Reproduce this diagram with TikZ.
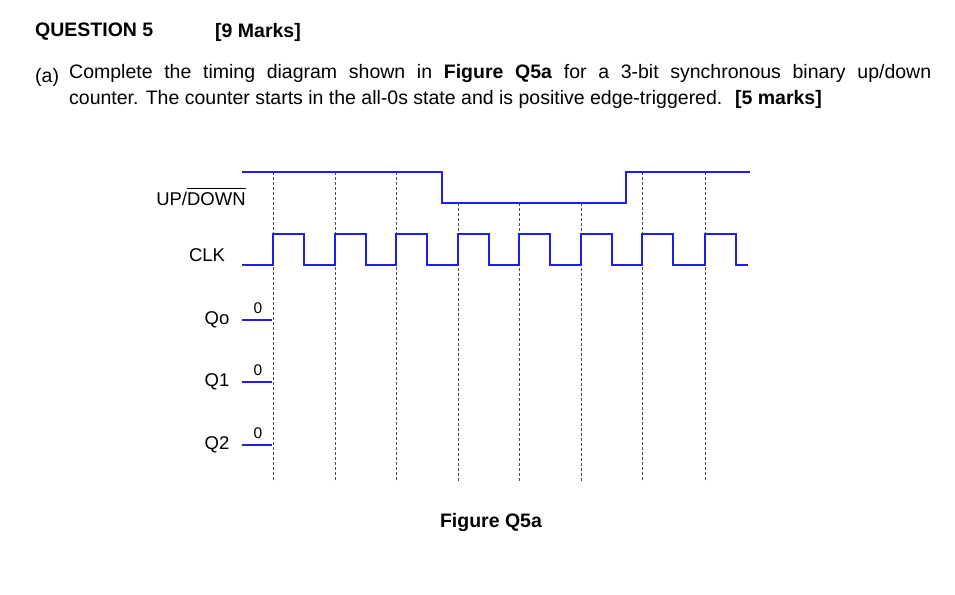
\documentclass[tikz,border=0pt]{standalone}
\usepackage{fontspec}
\setmainfont{Liberation Sans}
\begin{document}
\begin{tikzpicture}[x=1pt,y=-1pt,
  sig/.style={draw={rgb,255:red,30;green,30;blue,230},line width=1.6pt},
  grid/.style={draw=black!70,densely dashed,line width=0.6pt},
  lbl/.style={font=\fontsize{18.5}{20}\selectfont,inner sep=0pt}]
\useasboundingbox (0,0) rectangle (955,594);
\node[anchor=west,inner sep=0pt,font=\fontsize{19.5}{22}\selectfont\bfseries] (q) at (35,32) {QUESTION 5};
\node[anchor=west,inner sep=0pt,font=\fontsize{19.5}{22}\selectfont\bfseries] (m) at (215,32) {[9 Marks]};
\node[anchor=west,inner sep=0pt,font=\fontsize{19.5}{26}\selectfont] (a) at (35,77) {(a)};
\node[anchor=north west,inner sep=0pt,text width=862pt,align=justify,font=\fontsize{19.5}{26}\selectfont] (p) at (69,64)
 {Complete the timing diagram shown in \textbf{Figure Q5a} for a 3-bit synchronous binary up/down\linebreak counter. The counter starts in the all-0s state and is positive edge-triggered. \ \textbf{[5 marks]}};
% dashed grid
\foreach \x/\t in {273/172,335/172,396/172,458/203,519/203,581/203,642/172,705/172}
  \draw[grid] (\x,\t) -- (\x,482);
% UP/DOWN
\draw[sig] (242,172) -- (442,172) -- (442,203) -- (626,203) -- (626,172) -- (750,172);
\node[lbl] (ud) at (201,197) {UP/\setbox0\hbox{DOWN}\rlap{\raisebox{17pt}{\rule{\wd0}{0.6pt}}}DOWN};
% CLK
\node[lbl] (clk) at (207,255) {CLK};
\draw[sig] (242,265) \foreach \x in {273,335,396,458,519,581,642,705} { -- (\x,265) -- (\x,234) -- (\x+31,234) -- (\x+31,265) } -- (748,265);
% Q outputs
\foreach \y/\n/\nm in {320/Qo/qa,382/Q1/qb,445/Q2/qc}{
  \node[lbl] (\nm) at (217,\y) {\n};
  \draw[sig] (242,\y) -- (272,\y);
  \node[lbl,font=\fontsize{15.5}{16}\selectfont] at (258,\y-12) {0};
}
\node[inner sep=0pt,font=\fontsize{19.5}{22}\selectfont\bfseries] (f) at (491,522) {Figure Q5a};
\end{tikzpicture}
\end{document}
